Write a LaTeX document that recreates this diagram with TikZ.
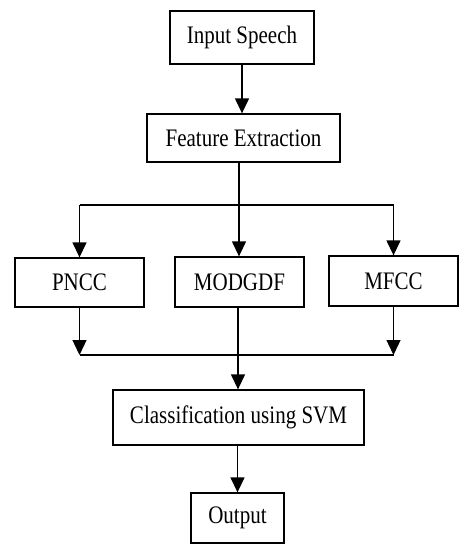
\documentclass[tikz,border=0pt]{standalone}
\usepackage{fontspec}
\setmainfont{Liberation Serif}
\usetikzlibrary{arrows.meta}
\newcommand{\tallword}[1]{\scalebox{1}[1.2]{#1}}

\begin{document}
\begin{tikzpicture}[x=1pt, y=-1pt,
    stagebox/.style={draw, line width=1.3pt, inner sep=0pt, font=\fontsize{21}{25}\selectfont},
    flow/.style={line width=1.3pt, -{Triangle[width=14pt,length=15pt]}},
    link/.style={line width=1.3pt}]
    \useasboundingbox (0,0) rectangle (474,557);
    \node [stagebox, minimum width=144pt, minimum height=53pt] (input) at (242,37.5) {\tallword{Input Speech}};
    \node [stagebox, minimum width=193pt, minimum height=48pt] (feat) at (243.5,138) {\tallword{Feature Extraction}};
    \node [stagebox, minimum width=129pt, minimum height=49pt] (pncc) at (79.5,282.5) {\tallword{PNCC}};
    \node [stagebox, minimum width=129pt, minimum height=50pt] (modgdf) at (239.5,282) {\tallword{MODGDF}};
    \node [stagebox, minimum width=129pt, minimum height=50pt] (mfcc) at (393.5,281) {\tallword{MFCC}};
    \node [stagebox, minimum width=251pt, minimum height=55pt] (svm) at (238.5,417.5) {\tallword{Classification using SVM}};
    \node [stagebox, minimum width=93pt, minimum height=50pt] (output) at (237.5,518) {\tallword{Output}};
    \coordinate (split) at (239,205);
    \coordinate (merge) at (238,355);
    % top part
    \draw [flow] (input.south) -- (input.south |- feat.north);
    \draw [link] (feat.south -| split) -- (split);
    \draw [link] (pncc.north |- split) -- (mfcc.north |- split);
    \draw [flow] (pncc.north |- split) -- (pncc.north);
    \draw [flow] (split) -- (split |- modgdf.north);
    \draw [flow] (mfcc.north |- split) -- (mfcc.north);
    % bottom part
    \draw [flow] (pncc.south) -- (pncc.south |- merge);
    \draw [flow] (mfcc.south) -- (mfcc.south |- merge);
    \draw [link] (pncc.south |- merge) -- (mfcc.south |- merge);
    \draw [flow] (modgdf.south -| merge) -- (merge |- svm.north);
    \draw [flow] (svm.south -| output) -- (output.north);
\end{tikzpicture}
\end{document}
